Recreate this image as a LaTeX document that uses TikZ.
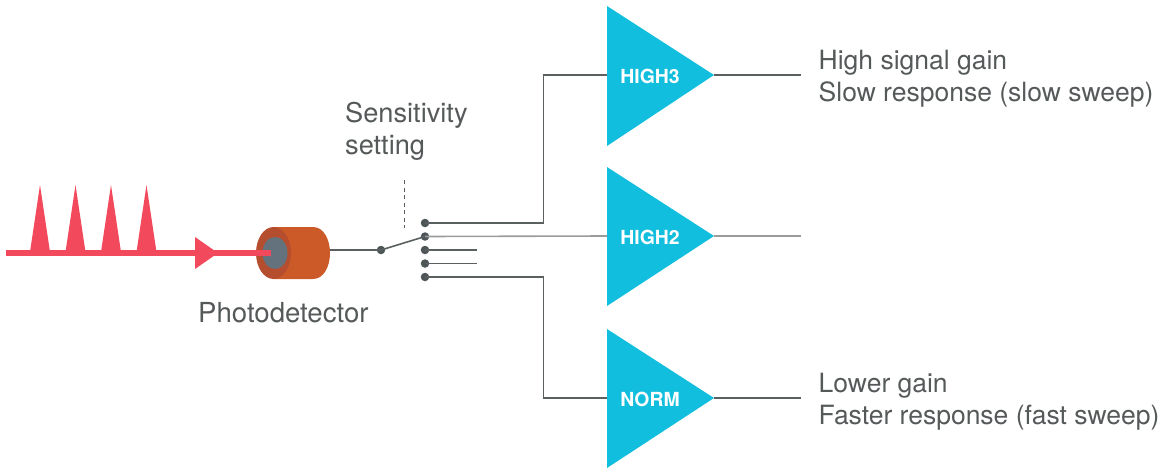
\documentclass[tikz,border=0pt]{standalone}
\usepackage{fontspec}
\setmainfont{TeX Gyre Heros}
\definecolor{amp}{HTML}{12BEDD}
\definecolor{pulse}{HTML}{F2495C}
\definecolor{wire}{HTML}{5A5F60}
\definecolor{wirelight}{HTML}{9A9C9C}
\definecolor{dotc}{HTML}{4D5556}
\definecolor{txt}{HTML}{55595A}
\definecolor{cyl}{HTML}{CC5A28}
\definecolor{cyld}{HTML}{B54E2E}
\definecolor{lens}{HTML}{64727E}
\tikzset{
  x=1pt,y=-1pt,
  wireline/.style={draw=wire,line width=1.6pt},
  lightline/.style={draw=wirelight,line width=1.6pt},
  contact/.style={circle,fill=dotc,inner sep=0pt,minimum size=8.5pt},
  amplabel/.style={text=white,font=\fontsize{19.4}{21}\selectfont\bfseries},
  lbl/.style={text=txt,font=\fontsize{26.5}{32}\selectfont,align=left,anchor=west,inner sep=0pt},
  ampshape/.style={fill=amp,draw=none},
  pulseshape/.style={fill=pulse,draw=none}
}
\begin{document}
\begin{tikzpicture}
\useasboundingbox (0,0) rectangle (1161,474);
% amplifiers
\fill[ampshape] (607,6) -- (714,75) -- (607,146) -- cycle;
\fill[ampshape] (607,167) -- (714,236) -- (607,306) -- cycle;
\fill[ampshape] (607,329) -- (714,398) -- (607,468) -- cycle;
\node[amplabel] (h3) at (650,76.5) {HIGH3};
\node[amplabel] (h2) at (650,237.5) {HIGH2};
\node[amplabel] (nm) at (650,399.5) {NORM};
\coordinate (a3in) at (607,75);
\coordinate (a2in) at (607,236);
\coordinate (a1in) at (607,398);
\coordinate (a3tip) at (714,75);
\coordinate (a2tip) at (714,236);
\coordinate (a1tip) at (714,398);
\coordinate (o3) at (801,75);
\coordinate (o2) at (801,236);
\coordinate (o1) at (801,398);
% switch
\node[contact] (pole) at (381,250) {};
\node[contact] (c1) at (425,223) {};
\node[contact] (c2) at (425,236.5) {};
\node[contact] (c3) at (425,250) {};
\node[contact] (c4) at (425,263.5) {};
\node[contact] (c5) at (425,277) {};
\coordinate (e3) at (477,250);
\coordinate (e4) at (477,263.5);
\draw[wireline] (c1.center) -| (543.5,75) -- (a3in);
\draw[lightline] (c2.center) -- (a2in);
\draw[wireline] (c3.center) -- (e3);
\draw[wireline] (c4.center) -- (e4);
\draw[wireline] (c5.center) -| (543.5,398) -- (a1in);
\draw[wireline] (pole.center) -- (c2.center);
\draw[wireline] (a3tip) -- (o3);
\draw[lightline] (a2tip) -- (o2);
\draw[wireline] (a1tip) -- (o1);
\coordinate (d1) at (404.5,180);
\coordinate (d2) at (404.5,228);
\draw[draw=wire,line width=0.8pt,dash pattern=on 4pt off 3.5pt] (d1) -- (d2);
% photodetector
\coordinate (pdout) at (330,250);
\draw[wireline] (pdout) -- (pole.center);
\fill[cyl] (273,227) -- (313,227) .. controls (324,227) and (330,240) .. (330,253) .. controls (330,266) and (324,279) .. (313,279) -- (273,279) -- cycle;
\fill[cyld] (273.5,253) ellipse [x radius=17.5, y radius=26];
\fill[lens] (275,253) ellipse [x radius=12.5, y radius=16];
% pulses
\fill[pulseshape] (30,252) -- (40,185) -- (50,252) -- cycle;
\fill[pulseshape] (65.5,252) -- (75.5,185) -- (85.5,252) -- cycle;
\fill[pulseshape] (101,252) -- (111,185) -- (121,252) -- cycle;
\fill[pulseshape] (136.5,252) -- (146.5,185) -- (156.5,252) -- cycle;
\fill[pulseshape] (6,250) rectangle (271,256);
\fill[pulseshape] (195,237) -- (218,253) -- (195,269) -- cycle;
% labels
\node[lbl,font=\fontsize{27.2}{32}\selectfont] (sens) at (345,131) {Sensitivity\\setting};
\node[lbl,font=\fontsize{27.6}{32}\selectfont] (pd) at (198,312.5) {Photodetector};
\node[lbl] (t1) at (818.5,79) {High signal gain\\Slow response (slow sweep)};
\node[lbl] (t2) at (818.5,402) {Lower gain\\Faster response (fast sweep)};
\end{tikzpicture}
\end{document}
